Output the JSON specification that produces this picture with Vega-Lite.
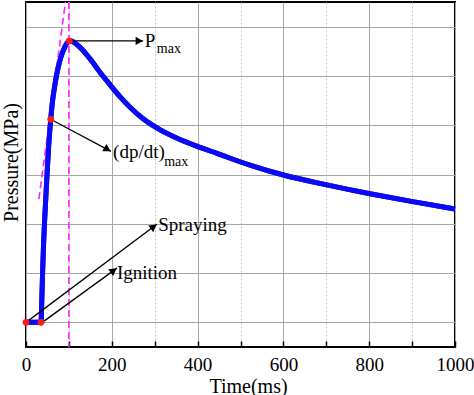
{
  "$schema": "https://vega.github.io/schema/vega-lite/v6.json",
  "width": 429,
  "height": 345,
  "autosize": {"type": "none"},
  "padding": {"left": 26, "top": 2, "right": 19, "bottom": 48},
  "config": {
    "view": {"stroke": "black", "strokeWidth": 2},
    "font": "Liberation Serif"
  },
  "datasets": {
    "curve": [
      {"t": 0, "p": 0.5}, {"t": 35, "p": 0.5}, {"t": 37, "p": 1.0}, {"t": 39, "p": 1.6},
      {"t": 41, "p": 2.1}, {"t": 43, "p": 2.5}, {"t": 46, "p": 3.0}, {"t": 49, "p": 3.5},
      {"t": 53, "p": 4.1}, {"t": 57.5, "p": 4.6}, {"t": 62, "p": 5.0}, {"t": 67, "p": 5.3},
      {"t": 72, "p": 5.55}, {"t": 78, "p": 5.78}, {"t": 84, "p": 5.95}, {"t": 90, "p": 6.08},
      {"t": 95, "p": 6.16}, {"t": 100, "p": 6.21}, {"t": 105, "p": 6.21}, {"t": 112, "p": 6.18},
      {"t": 126, "p": 6.08}, {"t": 149, "p": 5.85}, {"t": 172, "p": 5.58}, {"t": 196, "p": 5.32},
      {"t": 219, "p": 5.08}, {"t": 242, "p": 4.87}, {"t": 273, "p": 4.63}, {"t": 312, "p": 4.41},
      {"t": 351, "p": 4.24}, {"t": 406, "p": 4.05}, {"t": 448, "p": 3.92}, {"t": 476, "p": 3.83},
      {"t": 522, "p": 3.69}, {"t": 600, "p": 3.49}, {"t": 701, "p": 3.29}, {"t": 802, "p": 3.11},
      {"t": 895, "p": 2.96}, {"t": 1000, "p": 2.8}
    ],
    "dots": [
      {"t": 0, "p": 0.5}, {"t": 35, "p": 0.5}, {"t": 57.5, "p": 4.62}, {"t": 101, "p": 6.21}
    ],
    "vline": [{"t": 100}],
    "tangent": [{"t": 30, "p": 3.0, "t2": 92, "p2": 7.0}],
    "arrows": [
      {"t": 101, "p": 6.21, "t2": 273, "p2": 6.21},
      {"t": 57.5, "p": 4.62, "t2": 198, "p2": 3.97},
      {"t": 0, "p": 0.5, "t2": 305, "p2": 2.49},
      {"t": 38, "p": 0.5, "t2": 212, "p2": 1.6}
    ],
    "heads": [
      {"t": 264, "p": 6.21, "ang": 0},
      {"t": 190, "p": 4.01, "ang": 29.5},
      {"t": 297.5, "p": 2.44, "ang": -36.8},
      {"t": 204.4, "p": 1.553, "ang": -35.4}
    ],
    "labels": [
      {"t": 277, "p": 6.08, "label": "P"},
      {"t": 203, "p": 3.83, "label": "(dp/dt)"},
      {"t": 308, "p": 2.35, "label": "Spraying"},
      {"t": 212, "p": 1.37, "label": "Ignition"}
    ],
    "subs": [
      {"t": 305, "p": 5.97, "label": "max"},
      {"t": 322, "p": 3.67, "label": "max"}
    ]
  },
  "layer": [
    {
      "data": {"name": "curve"},
      "mark": {"type": "line", "color": "#0a0af5", "strokeWidth": 5, "interpolate": "monotone"},
      "encoding": {
        "x": {
          "field": "t", "type": "quantitative",
          "scale": {"domain": [0, 1000], "nice": false},
          "axis": {
            "values": [0, 100, 200, 300, 400, 500, 600, 700, 800, 900, 1000],
            "format": "d",
            "labelExpr": "datum.value % 200 === 0 ? datum.label : ''",
            "labelFlush": false,
            "labelOverlap": false,
            "title": "Time(ms)",
            "titleFont": "Liberation Serif", "titleFontSize": 20, "titleFontWeight": "normal", "titleColor": "black",
            "titleX": 222,
            "labelFont": "Liberation Serif", "labelFontSize": 19, "labelColor": "black",
            "domain": false,
            "grid": true,
            "gridColor": {"condition": {"test": "datum.value % 200 === 0", "value": "#a6a6a6"}, "value": "#c4c4c4"},
            "gridDash": {"condition": {"test": "datum.value % 200 === 0", "value": []}, "value": [2, 2]},
            "gridWidth": 1,
            "ticks": true,
            "tickColor": "black", "tickWidth": 1.5,
            "tickSize": -6,
            "labelPadding": 14,
            "titlePadding": 2
          }
        },
        "y": {
          "field": "p", "type": "quantitative",
          "scale": {"domain": [0, 7], "nice": false, "zero": false},
          "axis": {
            "values": [0.5, 1, 1.5, 2, 2.5, 3, 3.5, 4, 4.5, 5, 5.5, 6, 6.5],
            "labels": false, "ticks": false, "domain": false,
            "grid": true,
            "gridColor": {"condition": {"test": "datum.value % 1 === 0.5", "value": "#a6a6a6"}, "value": "#c4c4c4"},
            "gridDash": {"condition": {"test": "datum.value % 1 === 0.5", "value": []}, "value": [2, 2]},
            "gridWidth": 1,
            "title": "Pressure(MPa)",
            "titleFont": "Liberation Serif", "titleFontSize": 20, "titleFontWeight": "normal", "titleColor": "black",
            "titleY": 160,
            "titlePadding": 5
          }
        }
      }
    },
    {
      "data": {"name": "vline"},
      "mark": {"type": "rule", "color": "#ff22ff", "strokeWidth": 1.6, "strokeDash": [7, 4]},
      "encoding": {"x": {"field": "t", "type": "quantitative"}}
    },
    {
      "data": {"name": "tangent"},
      "mark": {"type": "rule", "color": "#ff22ff", "strokeWidth": 1.6, "strokeDash": [7, 4]},
      "encoding": {
        "x": {"field": "t", "type": "quantitative"},
        "y": {"field": "p", "type": "quantitative"},
        "x2": {"field": "t2"},
        "y2": {"field": "p2"}
      }
    },
    {
      "data": {"name": "curve"},
      "mark": {"type": "line", "color": "#0a0af5", "strokeWidth": 5, "interpolate": "monotone"},
      "encoding": {
        "x": {"field": "t", "type": "quantitative"},
        "y": {"field": "p", "type": "quantitative"}
      }
    },
    {
      "data": {"name": "arrows"},
      "mark": {"type": "rule", "color": "black", "strokeWidth": 1.3},
      "encoding": {
        "x": {"field": "t", "type": "quantitative"},
        "y": {"field": "p", "type": "quantitative"},
        "x2": {"field": "t2"},
        "y2": {"field": "p2"}
      }
    },
    {
      "data": {"name": "dots"},
      "mark": {"type": "point", "filled": true, "color": "#ff1a1a", "opacity": 1, "size": 45},
      "encoding": {
        "x": {"field": "t", "type": "quantitative"},
        "y": {"field": "p", "type": "quantitative"}
      }
    },
    {
      "data": {"name": "heads"},
      "mark": {"type": "point", "shape": "triangle-right", "filled": true, "color": "black", "opacity": 1, "size": 70},
      "encoding": {
        "x": {"field": "t", "type": "quantitative"},
        "y": {"field": "p", "type": "quantitative"},
        "angle": {"field": "ang", "type": "quantitative", "scale": null}
      }
    },
    {
      "data": {"name": "labels"},
      "mark": {"type": "text", "align": "left", "baseline": "alphabetic", "font": "Liberation Serif", "fontSize": 19, "color": "black"},
      "encoding": {
        "x": {"field": "t", "type": "quantitative"},
        "y": {"field": "p", "type": "quantitative"},
        "text": {"field": "label"}
      }
    },
    {
      "data": {"name": "subs"},
      "mark": {"type": "text", "align": "left", "baseline": "alphabetic", "font": "Liberation Serif", "fontSize": 14, "color": "black"},
      "encoding": {
        "x": {"field": "t", "type": "quantitative"},
        "y": {"field": "p", "type": "quantitative"},
        "text": {"field": "label"}
      }
    }
  ]
}
